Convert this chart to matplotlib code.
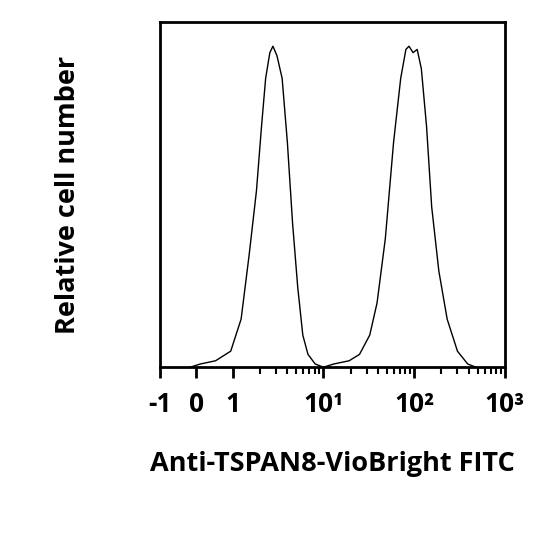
import numpy as np
import matplotlib
matplotlib.use("Agg")
import matplotlib.pyplot as plt
from matplotlib.ticker import FixedLocator

neg_x = [-0.166, 0.113, 0.530, 0.947, 1.24, 1.52, 1.83, 2.08, 2.31, 2.57, 2.78, 3.08, 3.51, 4.01, 4.57, 5.21, 5.93, 6.76, 8.12, 10.0]
neg_y = [0, 0.01, 0.02, 0.05, 0.15, 0.35, 0.55, 0.75, 0.9, 0.98, 1.0, 0.97, 0.9, 0.7, 0.45, 0.25, 0.1, 0.04, 0.01, 0]
pos_x = [10.0, 13.0, 19.2, 25.0, 32.4, 39.0, 48.1, 59.3, 71.1, 81.1, 87.7, 97.3, 108, 120, 137, 156, 187, 231, 300, 389, 480]
pos_y = [0, 0.01, 0.02, 0.04, 0.1, 0.2, 0.4, 0.7, 0.9, 0.99, 1.0, 0.98, 0.99, 0.93, 0.75, 0.5, 0.3, 0.15, 0.05, 0.01, 0]
tick_vals = [-1, 0, 1, 10, 100, 1000]
tick_labels = ["-1", "0", "1", "10¹", "10²", "10³"]

LIN = 0.209; DEC = 0.2605

def fwd(x):
    x = np.asarray(x, dtype=float)
    safe = np.where(x > 1, x, 1.0)
    return np.where(x <= 1, (x + 1) / 2 * LIN, LIN + DEC * np.log10(safe))

def inv(u):
    u = np.asarray(u, dtype=float)
    return np.where(u <= LIN, u / LIN * 2 - 1, 10 ** ((u - LIN) / DEC))

plt.rcParams['font.family'] = ['Open Sans', 'DejaVu Sans']
fig = plt.figure(figsize=(5.4, 5.4), dpi=100)
ax = fig.add_axes([0.296, 0.320, 0.639, 0.639])
ax.set_xscale('function', functions=(fwd, inv))
ax.plot(neg_x, neg_y, color='black', lw=1.0)
ax.plot(pos_x, pos_y, color='black', lw=1.0)
ax.set_xlim(-1, 1000)
ax.set_ylim(0, 1.075)
ax.xaxis.set_major_locator(FixedLocator(tick_vals))
ax.set_xticklabels(tick_labels, fontsize=19, fontweight='bold')
minors = [m * 10 ** d for d in range(0, 3) for m in range(2, 10)]
ax.xaxis.set_minor_locator(FixedLocator(minors))
ax.tick_params(axis='x', which='major', length=8, width=2, direction='out', pad=9)
ax.tick_params(axis='x', which='minor', length=5, width=1.5, direction='out', labelbottom=False)
ax.set_yticks([])
for s in ax.spines.values():
    s.set_linewidth(2)
ax.set_ylabel('Relative cell number', fontsize=19.5, fontweight='bold', labelpad=57)
ax.set_xlabel('Anti-TSPAN8-VioBright FITC', fontsize=19.5, fontweight='bold', labelpad=24)
fig.savefig('out.png', dpi=100)
